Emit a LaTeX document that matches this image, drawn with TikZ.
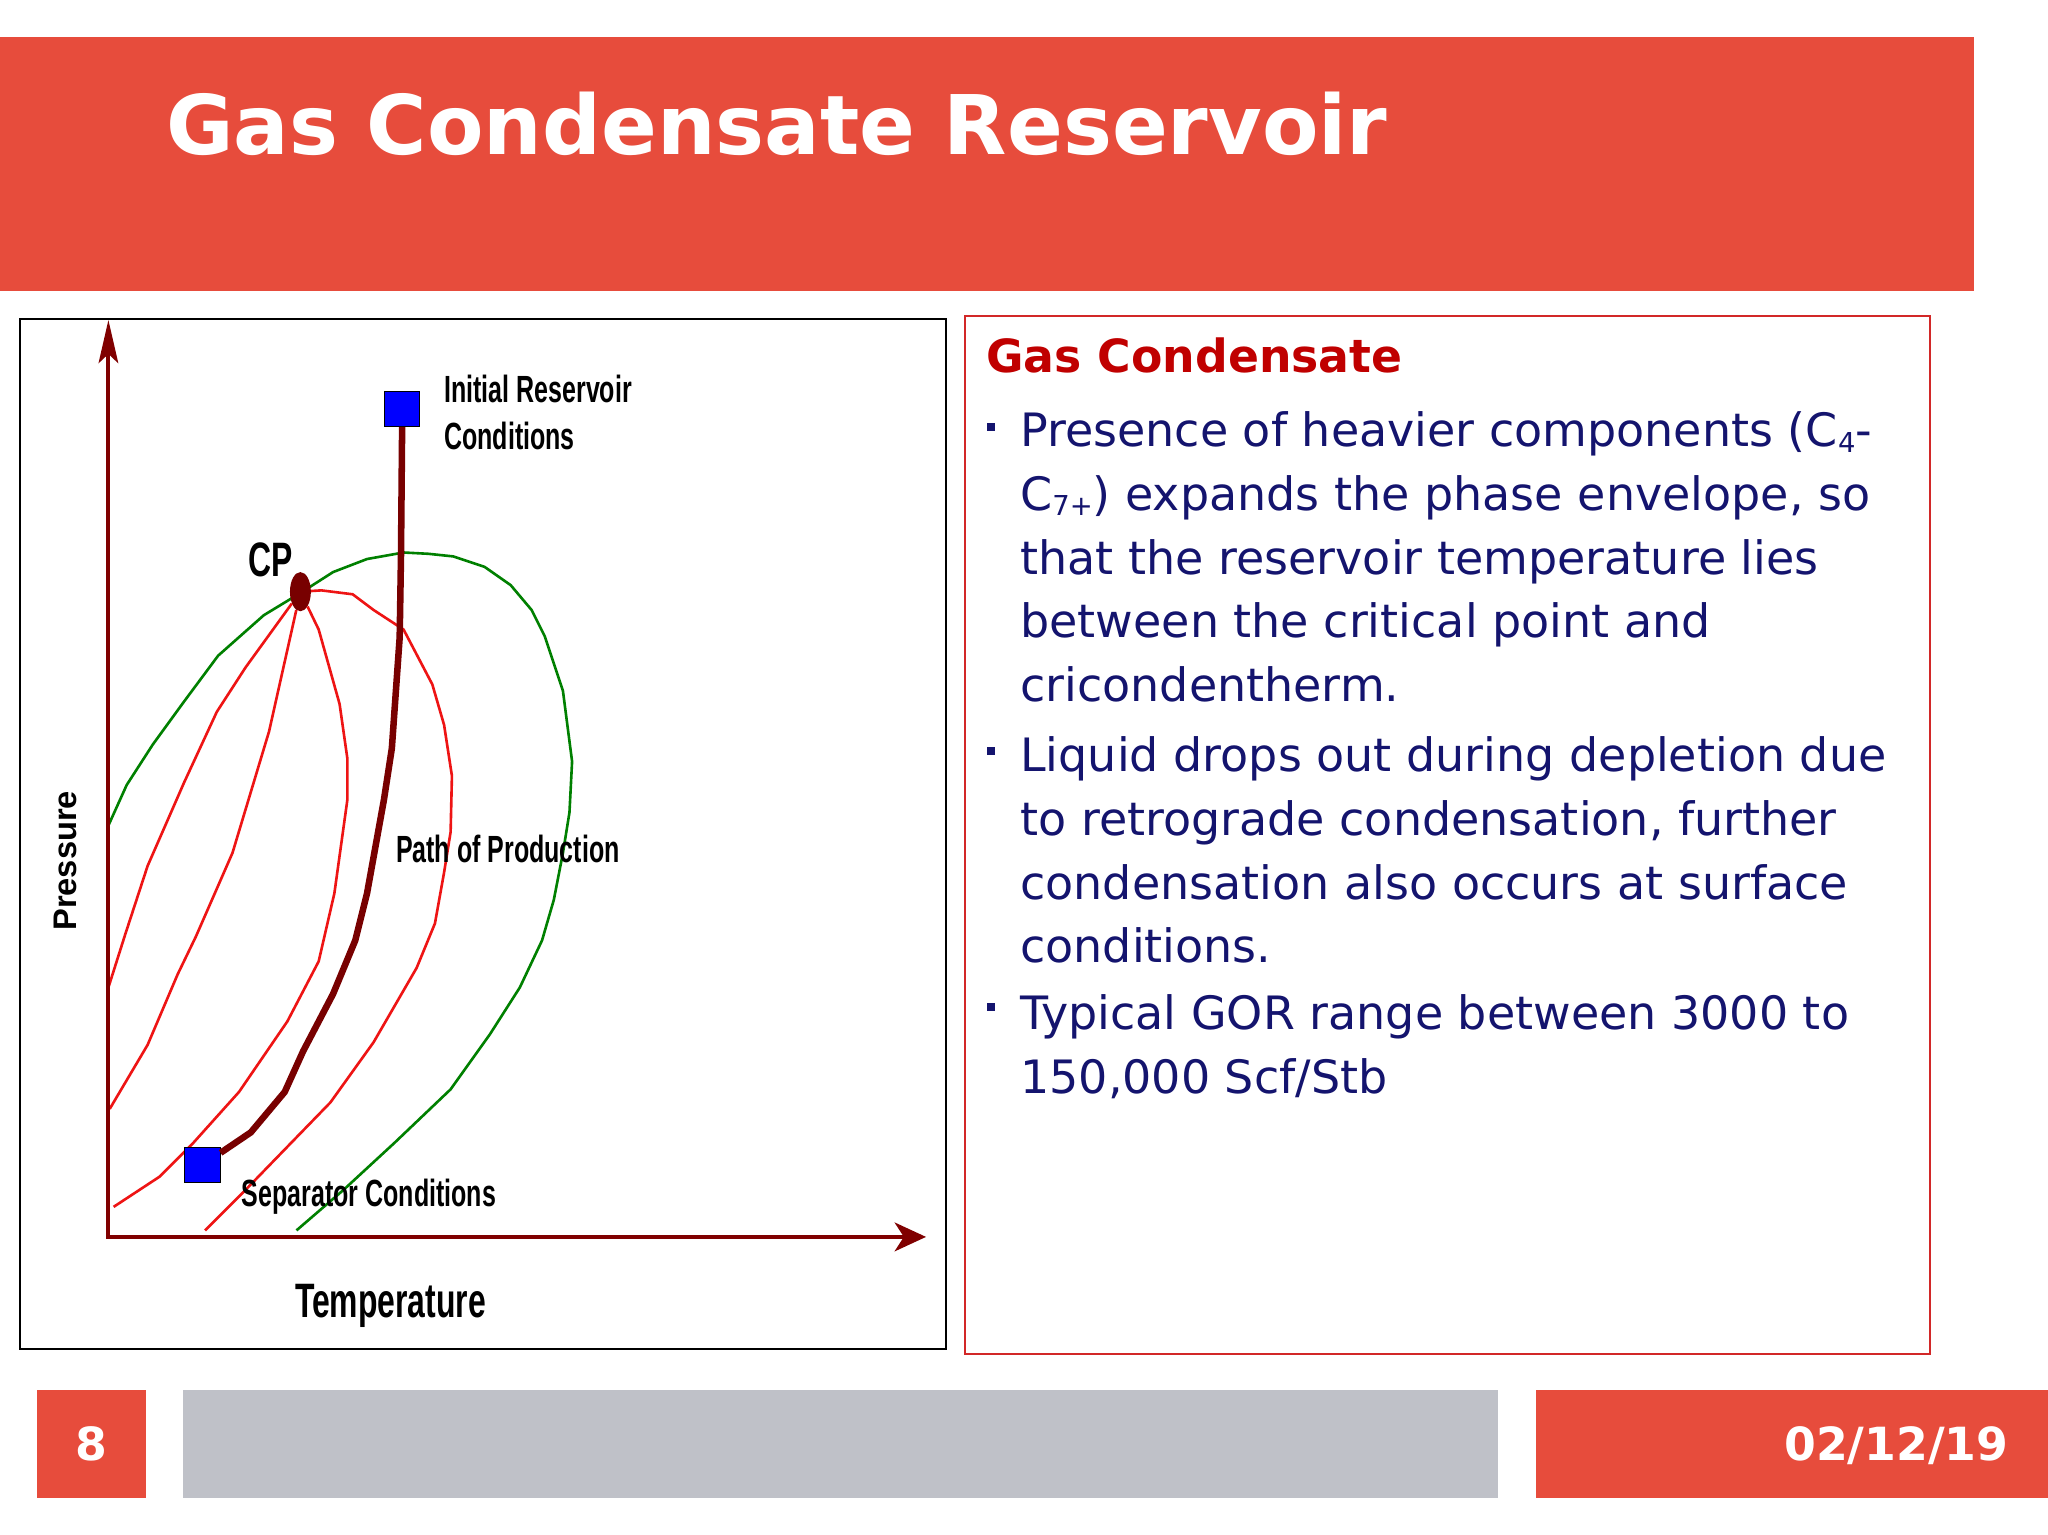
\documentclass[tikz,border=0pt]{standalone}
\usepackage{fontspec}
\setmainfont{DejaVu Sans}
\newfontfamily\narrowfont[FakeStretch=0.66]{Liberation Sans}
\newfontfamily\arialfont{Liberation Sans}
\usetikzlibrary{arrows.meta,shapes.geometric}
\definecolor{slidered}{RGB}{231,76,60}
\definecolor{footgray}{RGB}{191,193,200}
\definecolor{axisred}{RGB}{128,0,0}
\definecolor{prodred}{RGB}{120,0,0}
\definecolor{curvered}{RGB}{238,20,20}
\definecolor{envgreen}{RGB}{0,128,0}
\definecolor{textnavy}{RGB}{20,20,110}
\definecolor{headred}{RGB}{192,0,0}
\definecolor{boxred}{RGB}{210,40,40}
\newcommand{\lowsub}[1]{\raisebox{-4pt}{\fontsize{21}{21}\selectfont #1}}

\begin{document}
\begin{tikzpicture}[
  x=1pt, y=-1pt,
  lbl/.style={font=\narrowfont\bfseries\fontsize{29}{36}\selectfont,
              inner sep=0pt, align=left, anchor=base west},
  biglbl/.style={font=\narrowfont\bfseries\fontsize{37}{40}\selectfont,
                 inner sep=0pt, anchor=base},
  axis/.style={axisred, line width=3pt,
               {Stealth[length=33pt,width=15pt,inset=7pt]}-{Stealth[length=24pt,width=22pt,inset=7pt]}},
  envelope/.style={envgreen, line width=2pt, line join=round},
  quality/.style={curvered, line width=2pt, line join=round},
  prod/.style={prodred, line width=5pt, line join=round},
  cond/.style={rectangle, fill=blue, draw=black, line width=0.8pt,
               minimum size=27pt, inner sep=0pt},
  body/.style={font=\fontsize{35.2}{48.7}\selectfont, text=textnavy,
               align=left, inner sep=0pt, anchor=base west},
]

\path[use as bounding box, fill=white] (0,0) rectangle (1568,1175);

%% ---- TITLE BAND ----
\fill[slidered] (0,28) rectangle (1511,223);
\node[font=\bfseries\fontsize{63}{70}\selectfont, text=white,
      inner sep=0pt, anchor=base west] (title) at (127,118) {Gas Condensate Reservoir};

%% ---- PANELS ----
\draw[black, line width=1.5pt] (15,244) rectangle (724,1033);
\draw[boxred, line width=1.5pt] (739,242) rectangle (1478,1037);

%% ---- PHASE ENVELOPE (dew point line) ----
\draw[envelope] (83,632) -- (97,601) -- (117,570) -- (141,537) -- (167,502)
  -- (202,471) -- (230,454) -- (255,438) -- (281,428) -- (309,423) -- (328,424)
  -- (347,426) -- (371,434) -- (391,448) -- (407,467) -- (417,487) -- (431,529)
  -- (438,583) -- (436,622) -- (431,653) -- (424,689) -- (415,720) -- (398,756)
  -- (375,792) -- (345,834) -- (302,875) -- (263,911) -- (227,942);

%% ---- critical point + quality lines ----
\node[ellipse, fill=prodred, minimum width=16pt, minimum height=30pt,
      inner sep=0pt] (cp) at (230,453) {};
\draw[quality] (cp) -- (188,511) -- (166,545) -- (141,599) -- (113,663)
  -- (96,715) -- (83,756);
\draw[quality] (cp) -- (206,560) -- (178,653) -- (150,717) -- (136,746)
  -- (113,800) -- (84,849);
\draw[quality] (cp) -- (244,482) -- (260,539) -- (266,581) -- (266,612)
  -- (256,684) -- (244,736) -- (220,782) -- (183,836) -- (148,875)
  -- (122,901) -- (87,924);
\draw[quality] (cp) -- (246,452) -- (270,455) -- (286,467) -- (309,482)
  -- (331,524) -- (340,555) -- (346,594) -- (345,637) -- (340,668)
  -- (333,707) -- (319,741) -- (286,798) -- (253,844) -- (220,878)
  -- (188,911) -- (157,942);

%% ---- path of production ----
\node[cond] (init) at (308,313) {};
\node[cond] (sep) at (155,892) {};
\draw[prod] (init) -- (307,426) -- (306,488) -- (300,573) -- (294,612)
  -- (281,684) -- (272,720) -- (255,761) -- (232,805) -- (218,836)
  -- (192,867) -- (sep);

%% ---- AXES ----
\coordinate (ptop) at (83,245);
\coordinate (orig) at (83,947);
\coordinate (tend) at (709,947);
\draw[axis] (ptop) -- (orig) -- (tend);

%% ---- diagram labels ----
\node[lbl] (initlbl) at (340,344) {Initial Reservoir\\Conditions};
\node[biglbl] (cplbl) at (207,441) {CP};
\node[lbl] (pathlbl) at (303,660) {Path of Production};
\node[lbl] (seplbl) at (185,924) {Separator Conditions};
\node[biglbl] (tlbl) at (299,1009) {Temperature};
\node[font=\arialfont\bfseries\fontsize{25}{28}\selectfont, rotate=90,
      inner sep=0pt] (plbl) at (50,659) {Pressure};

%% ---- RIGHT PANEL TEXT ----
\node[font=\bfseries\fontsize{35}{42}\selectfont, text=headred,
      inner sep=0pt, anchor=base west] (hd) at (755,285) {Gas Condensate};
\node[body] (p1) at (781,537) {Presence of heavier components (C\lowsub{4}-\\
  C\lowsub{7+}) expands the phase envelope, so\\
  that the reservoir temperature lies\\
  between the critical point and\\
  cricondentherm.};
\node[body] (p2) at (781,737) {Liquid drops out during depletion due\\
  to retrograde condensation, further\\
  condensation also occurs at surface\\
  conditions.};
\node[body] (p3) at (781,837) {Typical GOR range between 3000 to\\
  150,000 Scf/Stb};
\foreach \y in {327,575,771}{
  \fill[textnavy] (756,\y-3) rectangle (762,\y+3);
}

%% ---- FOOTER ----
\fill[slidered] (28,1064) rectangle (112,1147);
\fill[footgray] (140,1064) rectangle (1147,1147);
\fill[slidered] (1176,1064) rectangle (1568,1147);
\node[font=\bfseries\fontsize{35}{40}\selectfont, text=white, inner sep=0pt,
      anchor=base] (pgnum) at (70,1118) {8};
\node[font=\bfseries\fontsize{35}{40}\selectfont, text=white, inner sep=0pt,
      anchor=base east] (date) at (1538,1118) {02/12/19};

\end{tikzpicture}
\end{document}
